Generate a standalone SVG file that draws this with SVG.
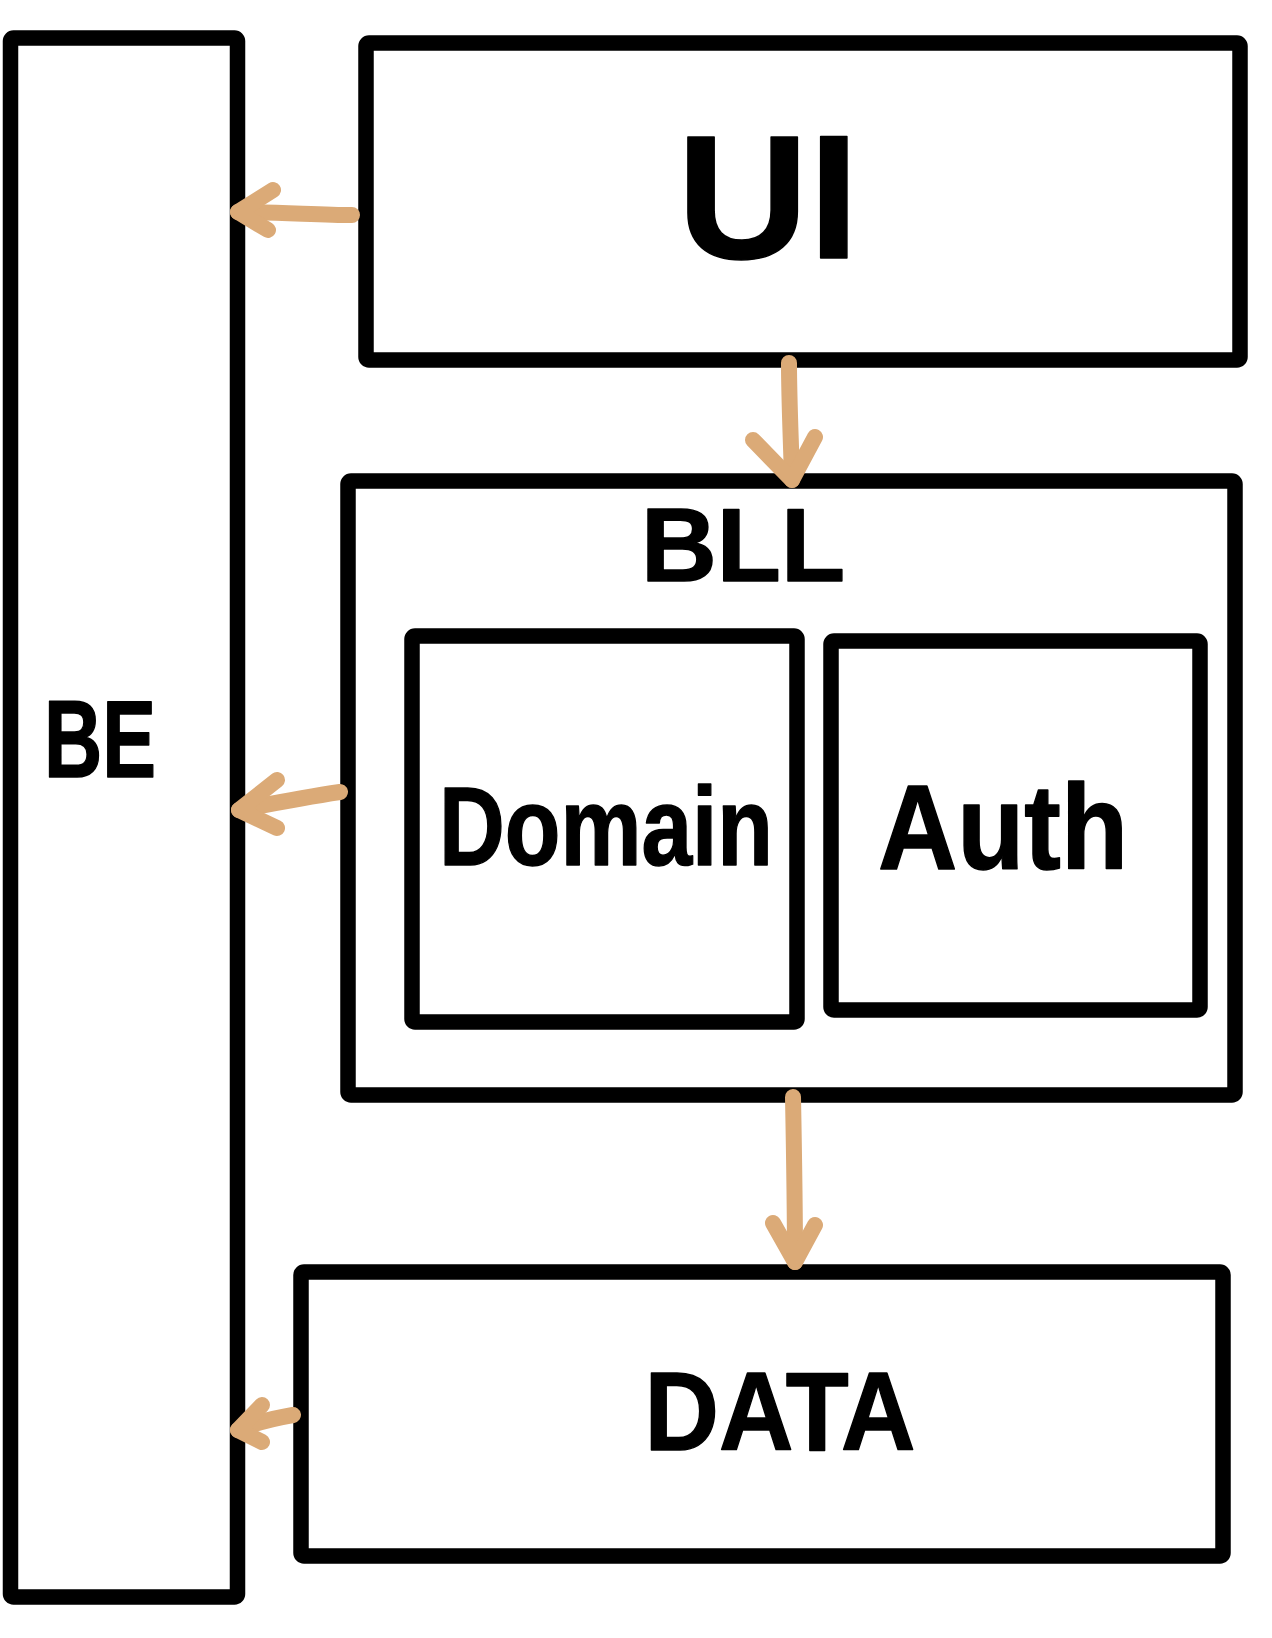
<svg xmlns="http://www.w3.org/2000/svg" width="1272" height="1638" viewBox="0 0 1272 1638">
<style>
.box{fill:none;stroke:#000;stroke-width:15.5;stroke-linejoin:round}
.lbl{font-family:"Liberation Sans",Arial,sans-serif;font-weight:bold;fill:#000;stroke:#000;stroke-width:1.5;stroke-linejoin:round;text-anchor:middle}
.arr{fill:none;stroke:#DBAA77;stroke-width:16;stroke-linecap:round;stroke-linejoin:round}
</style>
<rect width="1272" height="1638" fill="#fff"/>
<g id="node-be">
<rect class="box" x="10.5" y="38" width="227" height="1559" rx="3"/>
<text class="lbl" x="100" y="777" font-size="110" textLength="112" lengthAdjust="spacingAndGlyphs">BE</text>
</g>
<g id="node-ui">
<rect class="box" x="366" y="43" width="874" height="317" rx="3"/>
<text class="lbl" x="768" y="258" font-size="176" textLength="182" lengthAdjust="spacingAndGlyphs">UI</text>
</g>
<g id="node-bll">
<rect class="box" x="348" y="481" width="887" height="614" rx="3"/>
<text class="lbl" x="743" y="581" font-size="104" textLength="204" lengthAdjust="spacingAndGlyphs">BLL</text>
</g>
<g id="node-domain">
<rect class="box" x="412" y="636" width="385" height="386" rx="3"/>
<text class="lbl" x="606" y="865" font-size="112" textLength="334" lengthAdjust="spacingAndGlyphs">Domain</text>
</g>
<g id="node-auth">
<rect class="box" x="831" y="641" width="369" height="369" rx="3"/>
<text class="lbl" x="1003" y="869" font-size="120" textLength="250" lengthAdjust="spacingAndGlyphs">Auth</text>
</g>
<g id="node-data">
<rect class="box" x="301" y="1272" width="922" height="284" rx="3"/>
<text class="lbl" x="780" y="1450" font-size="112" textLength="271" lengthAdjust="spacingAndGlyphs">DATA</text>
</g>
<g id="connectors">
<path class="arr" d="M352 215 C 320 215 280 212 238 212"/>
<polyline class="arr" points="273,190 238,212 268,230"/>
<path class="arr" d="M789 363 C 789 400 791 440 792 480"/>
<polyline class="arr" points="753,440 792,480 815,437"/>
<path class="arr" d="M340 792 C 300 798 270 804 239 810"/>
<polyline class="arr" points="277,780 239,810 277,828"/>
<path class="arr" d="M793 1097 C 794 1150 795 1210 795 1262"/>
<polyline class="arr" points="773,1223 795,1262 815,1225"/>
<path class="arr" d="M293 1415 C 270 1419 252 1424 238 1430"/>
<polyline class="arr" points="262,1405 238,1430 262,1442"/>
</g>
</svg>
